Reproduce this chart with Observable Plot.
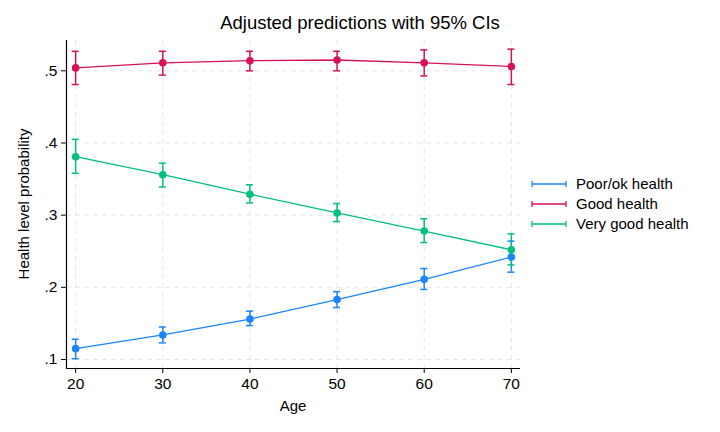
<!DOCTYPE html>
<html>
<head>
<meta charset="utf-8">
<script src="https://cdn.jsdelivr.net/npm/d3@7"></script>
<script src="https://cdn.jsdelivr.net/npm/@observablehq/plot@0.6"></script>
<style>
  body { margin: 0; background: #fff; }
  g[aria-label$="tick label"] text, g[aria-label$="tick label"] { font-size: 15.5px !important; }
</style>
</head>
<body>
<div id="chart"></div>
<script>
const ages = [20, 30, 40, 50, 60, 70];
const seriesNames = ["Poor/ok health", "Good health", "Very good health"];
const seriesColors = ["#1A85FF", "#D41159", "#00BF7F"];

const poorEst = [0.115, 0.134, 0.156, 0.183, 0.211, 0.242];
const poorLo  = [0.101, 0.123, 0.147, 0.172, 0.197, 0.221];
const poorHi  = [0.128, 0.145, 0.167, 0.194, 0.226, 0.264];

const goodEst = [0.504, 0.511, 0.514, 0.515, 0.511, 0.506];
const goodLo  = [0.481, 0.494, 0.500, 0.500, 0.493, 0.481];
const goodHi  = [0.527, 0.527, 0.527, 0.527, 0.529, 0.530];

const vgoodEst = [0.381, 0.356, 0.329, 0.303, 0.278, 0.252];
const vgoodLo  = [0.358, 0.339, 0.317, 0.291, 0.262, 0.231];
const vgoodHi  = [0.405, 0.372, 0.342, 0.316, 0.295, 0.274];

const yTicks = [0.1, 0.2, 0.3, 0.4, 0.5];
const xTicks = [20, 30, 40, 50, 60, 70];

const titleText = "Adjusted predictions with 95% CIs";
const xLabel = "Age";
const yLabel = "Health level probability";

const est = [poorEst, goodEst, vgoodEst];
const lo = [poorLo, goodLo, vgoodLo];
const hi = [poorHi, goodHi, vgoodHi];

const data = [];
seriesNames.forEach((s, i) => {
  ages.forEach((a, j) => {
    data.push({series: s, age: a, est: est[i][j], lo: lo[i][j], hi: hi[i][j]});
  });
});

const W = 720, H = 432;
const mL = 66, mR = 200, mT = 40, mB = 64;
const xDom = [18.95, 71.05], yDom = [0.0875, 0.542];
const fmt = d => d3.format(".1f")(d).replace(/^0/, "");
const FONT = "Liberation Sans, Arial, sans-serif";

const plot = Plot.plot({
  width: W, height: H,
  marginLeft: mL, marginRight: mR, marginTop: mT, marginBottom: mB,
  style: {fontFamily: FONT, fontSize: "15px", color: "#000", background: "#fff"},
  x: {domain: xDom, label: null},
  y: {domain: yDom, label: null},
  color: {domain: seriesNames, range: seriesColors},
  marks: [
    Plot.gridX(xTicks, {stroke: "#e6e6e6", strokeOpacity: 1, strokeDasharray: "5,4", strokeWidth: 1}),
    Plot.gridY(yTicks, {stroke: "#e6e6e6", strokeOpacity: 1, strokeDasharray: "5,4", strokeWidth: 1}),
    Plot.axisX({ticks: xTicks, tickFormat: d => String(d), label: null, tickSize: 5, tickPadding: 4, fontSize: 15.5}),
    Plot.axisY({ticks: yTicks, tickFormat: fmt, label: null, tickSize: 5, tickPadding: 4, fontSize: 15.5}),
    Plot.ruleX([0], {x: () => xDom[0], y1: yDom[0], y2: yDom[1], stroke: "#000", strokeWidth: 1.2}),
    Plot.ruleY([0], {y: () => yDom[0], x1: xDom[0], x2: xDom[1], stroke: "#000", strokeWidth: 1.2}),
    Plot.ruleX(data, {x: "age", y1: "lo", y2: "hi", stroke: "series", strokeWidth: 1.5}),
    Plot.ruleY(data, {y: "lo", x1: "age", x2: "age", insetLeft: -3.5, insetRight: -3.5, stroke: "series", strokeWidth: 1.5}),
    Plot.ruleY(data, {y: "hi", x1: "age", x2: "age", insetLeft: -3.5, insetRight: -3.5, stroke: "series", strokeWidth: 1.5}),
    Plot.line(data, {x: "age", y: "est", z: "series", stroke: "series", strokeWidth: 1.3}),
    Plot.dot(data, {x: "age", y: "est", fill: "series", r: 3.8, stroke: "none"})
  ]
});

const svg = d3.select(plot);

function addText(x, y, str, size, anchor, transform) {
  const t = svg.append("text")
    .attr("text-anchor", anchor)
    .attr("font-family", FONT)
    .attr("font-size", size).attr("fill", "#000")
    .style("font-size", size + "px")
    .text(str);
  if (transform) t.attr("transform", transform);
  else t.attr("x", x).attr("y", y);
  return t;
}
addText(360, 29, titleText, 18.5, "middle");
addText(0, 0, yLabel, 15, "middle", "translate(29,204) rotate(-90)");
addText(293, 411, xLabel, 15, "middle");

const lg = svg.append("g").attr("transform", "translate(532,184)");
seriesNames.forEach((s, i) => {
  const g = lg.append("g").attr("transform", `translate(0,${i * 20})`);
  g.append("line").attr("x1", 0).attr("x2", 34).attr("y1", 0).attr("y2", 0)
    .attr("stroke", seriesColors[i]).attr("stroke-width", 1.3);
  g.append("line").attr("x1", 0).attr("x2", 0).attr("y1", -3).attr("y2", 3)
    .attr("stroke", seriesColors[i]).attr("stroke-width", 1.3);
  g.append("line").attr("x1", 34).attr("x2", 34).attr("y1", -3).attr("y2", 3)
    .attr("stroke", seriesColors[i]).attr("stroke-width", 1.3);
  g.append("text").attr("x", 44).attr("y", 5)
    .attr("text-anchor", "start")
    .attr("font-family", FONT)
    .attr("font-size", 15).style("font-size", "15px").attr("fill", "#000")
    .text(s);
});

document.getElementById("chart").appendChild(plot);
</script>
</body>
</html>
